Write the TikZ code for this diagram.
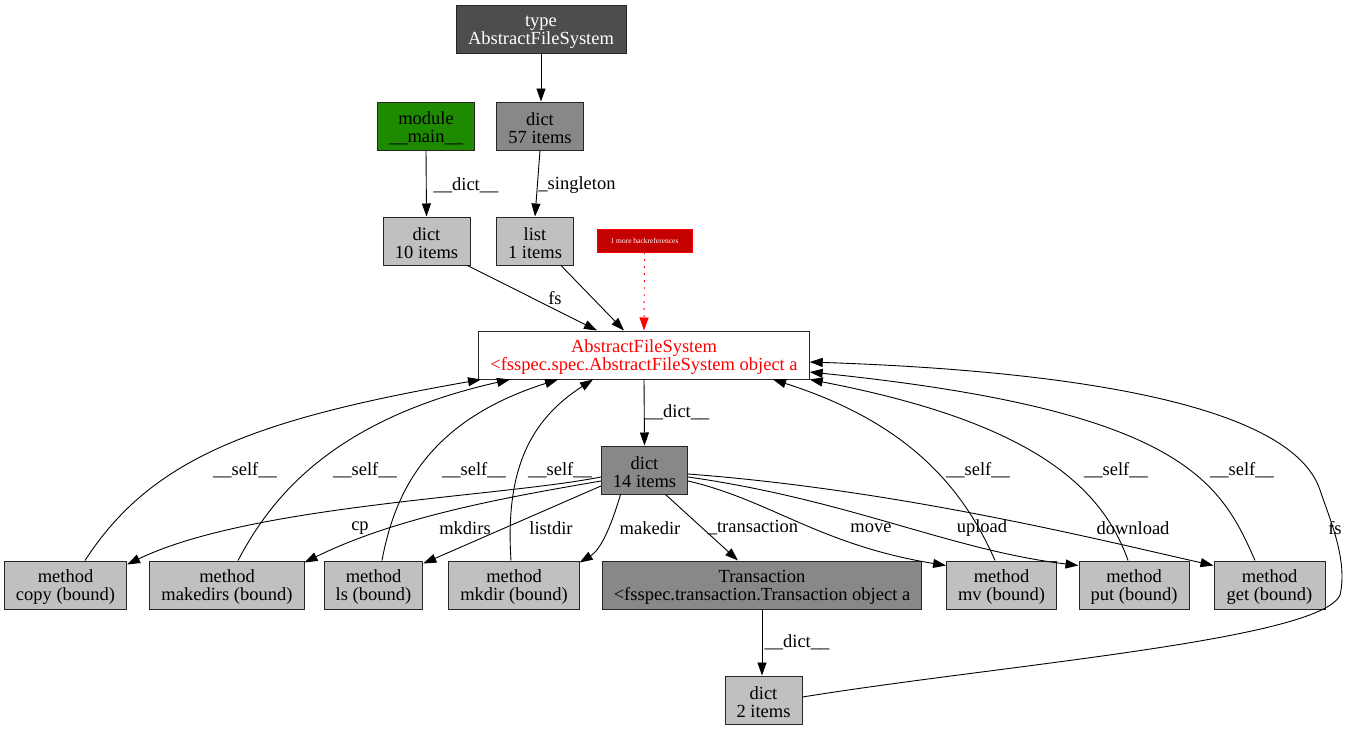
\documentclass[tikz,border=0pt]{standalone}
\usepackage{fontspec}
\setmainfont{Liberation Serif}
\usetikzlibrary{arrows.meta}
\definecolor{darkg}{HTML}{4D4D4D}
\definecolor{midg}{HTML}{888888}
\definecolor{lightg}{HTML}{C0C0C0}
\definecolor{modg}{HTML}{1E8A00}
\definecolor{refred}{HTML}{C40000}
\begin{document}
\begin{tikzpicture}[x=1pt,y=-1pt,
  every node/.style={font=\fontsize{18.5}{18}\selectfont},
  box/.style={draw=black!85, line width=1pt, minimum height=48pt, inner xsep=11.5pt, inner ysep=4pt, align=center, text height=34.5pt},
  arr/.style={-{Triangle[length=13pt,width=9pt]}, line width=0.9pt},
  lbl/.style={inner sep=0pt}]
\useasboundingbox (0,0) rectangle (1346,729);
% nodes
\node[box, fill=darkg, text=white, minimum width=170pt] (type) at (541,29) {type\\AbstractFileSystem};
\node[box, fill=modg, minimum width=96pt] (mod) at (426,126) {module\\\_\_main\_\_};
\node[box, fill=midg, minimum width=84pt] (d57) at (540,126) {dict\\57 items};
\node[box, fill=lightg, minimum width=87pt] (d10) at (426.5,241) {dict\\10 items};
\node[box, fill=lightg, minimum width=76pt] (lst) at (535,241) {list\\1 items};
\node[draw=red, fill=refred, text=white, font=\fontsize{7.5}{9}\selectfont, minimum width=95pt, minimum height=23pt, inner sep=2pt] (refs) at (644.5,240.5) {1 more backreferences};
\node[box, fill=white, text=red, minimum width=330pt] (afs) at (644,355) {AbstractFileSystem\\<fsspec.spec.AbstractFileSystem object a};
\node[box, fill=midg, minimum width=85pt] (d14) at (644.5,470) {dict\\14 items};
\node[box, fill=lightg, minimum width=121pt] (copy) at (65.5,585) {method\\copy (bound)};
\node[box, fill=lightg, minimum width=152pt] (mkdirs) at (227,585) {method\\makedirs (bound)};
\node[box, fill=lightg, minimum width=89pt] (ls) at (373.5,585) {method\\ls (bound)};
\node[box, fill=lightg, minimum width=130pt] (mkdir) at (514,585) {method\\mkdir (bound)};
\node[box, fill=midg, minimum width=318pt] (trans) at (762,585) {Transaction\\<fsspec.transaction.Transaction object a};
\node[box, fill=lightg, minimum width=109pt] (mv) at (1001.5,585) {method\\mv (bound)};
\node[box, fill=lightg, minimum width=110pt] (put) at (1134,585) {method\\put (bound)};
\node[box, fill=lightg, minimum width=111pt] (get) at (1269.5,585) {method\\get (bound)};
\node[box, fill=lightg, minimum width=77pt] (d2) at (763.5,700) {dict\\2 items};
% top edges
\draw[arr] (type.south) -- (type.south |- d57.north);
\draw[arr] (mod.south) -- (d10.north);
\draw[arr] (d57.south) -- (lst.north);
\draw[arr] ([xshift=-3pt]d10.south east) -- ([xshift=-47pt]afs.north);
\draw[arr] ([xshift=26pt]lst.south) -- ([xshift=-20pt]afs.north);
\draw[arr, red, dash pattern=on 2pt off 5pt] (refs.south) -- (afs.north);
\draw[arr] (afs.south) -- (d14.north);
\draw[arr] (trans.south) -- (trans.south |- d2.north);
% dict14 out edges
\draw[arr] ([yshift=-7pt]d14.west) .. controls (500,497) and (250,505) .. ([yshift=-4pt]copy.north east);
\draw[arr] ([yshift=-11pt]d14.west) .. controls (520,495) and (400,515) .. ([yshift=-2pt]mkdirs.north east);
\draw[arr] ([yshift=-16pt]d14.west) -- ([yshift=-3pt]ls.north east);
\draw[arr] ([xshift=-24pt]d14.south) .. controls (610,530) and (600,550) .. ([yshift=-2pt]mkdir.north east);
\draw[arr] ([xshift=21pt]d14.south) -- ([xshift=-24pt]trans.north);
\draw[arr] ([yshift=-11pt]d14.east) .. controls (770,500) and (820,545) .. ([yshift=-5pt]mv.north west);
\draw[arr] ([yshift=-7pt]d14.east) .. controls (850,500) and (950,550) .. ([yshift=-5pt]put.north west);
\draw[arr] ([yshift=-4pt]d14.east) .. controls (900,490) and (1100,540) .. ([yshift=-5pt]get.north west);
% self edges
\draw[arr] ([xshift=19.5pt]copy.north) .. controls (150,460) and (250,420) .. ([xshift=-163pt]afs.south);
\draw[arr] ([xshift=11pt]mkdirs.north) .. controls (270,500) and (330,420) .. ([xshift=-134pt]afs.south);
\draw[arr] ([xshift=8.5pt]ls.north) .. controls (395,490) and (430,420) .. ([xshift=-86pt]afs.south);
\draw[arr] ([xshift=-3pt]mkdir.north) .. controls (505,470) and (530,420) .. ([xshift=-51pt]afs.south);
\draw[arr] ([xshift=-6.5pt]mv.north) .. controls (960,480) and (900,420) .. ([xshift=129pt]afs.south);
\draw[arr] ([xshift=-6pt]put.north) .. controls (1100,480) and (1020,420) .. (afs.south east);
\draw[arr] ([xshift=-14.5pt]get.north) .. controls (1220,480) and (1180,410) .. ([yshift=-17pt]afs.east);
\draw[arr] ([yshift=3pt]d2.east) .. controls (1000,665) and (1320,640) .. (1340,595)
  .. controls (1348,560) and (1330,520) .. (1320,490)
  .. controls (1290,400) and (1050,370) .. ([yshift=-7pt]afs.east);
% labels
\node[lbl] (lmod) at (466,185) {\_\_dict\_\_};
\node[lbl] (lsing) at (577,185) {\_singleton};
\node[lbl] (lfs1) at (555,298) {fs};
\node[lbl] (lafs) at (677,412) {\_\_dict\_\_};
\node[lbl] (ltr) at (797,642) {\_\_dict\_\_};
\node[lbl] (lfs2) at (1335,528) {fs};
\node[lbl] (ls1) at (245,470) {\_\_self\_\_};
\node[lbl] (ls2) at (365,470) {\_\_self\_\_};
\node[lbl] (ls3) at (474,470) {\_\_self\_\_};
\node[lbl] (ls4) at (560,470) {\_\_self\_\_};
\node[lbl] (ls5) at (978,470) {\_\_self\_\_};
\node[lbl] (ls6) at (1116,470) {\_\_self\_\_};
\node[lbl] (ls7) at (1242,470) {\_\_self\_\_};
\node[lbl] (lcp) at (360,528) {cp};
\node[lbl] (lmkdirs) at (465,528) {mkdirs};
\node[lbl] (llistdir) at (551,528) {listdir};
\node[lbl] (lmakedir) at (650,528) {makedir};
\node[lbl] (ltrans) at (753,528) {\_transaction};
\node[lbl] (lmove) at (871,528) {move};
\node[lbl] (lupload) at (982,528) {upload};
\node[lbl] (ldownload) at (1133,528) {download};
\end{tikzpicture}
\end{document}
